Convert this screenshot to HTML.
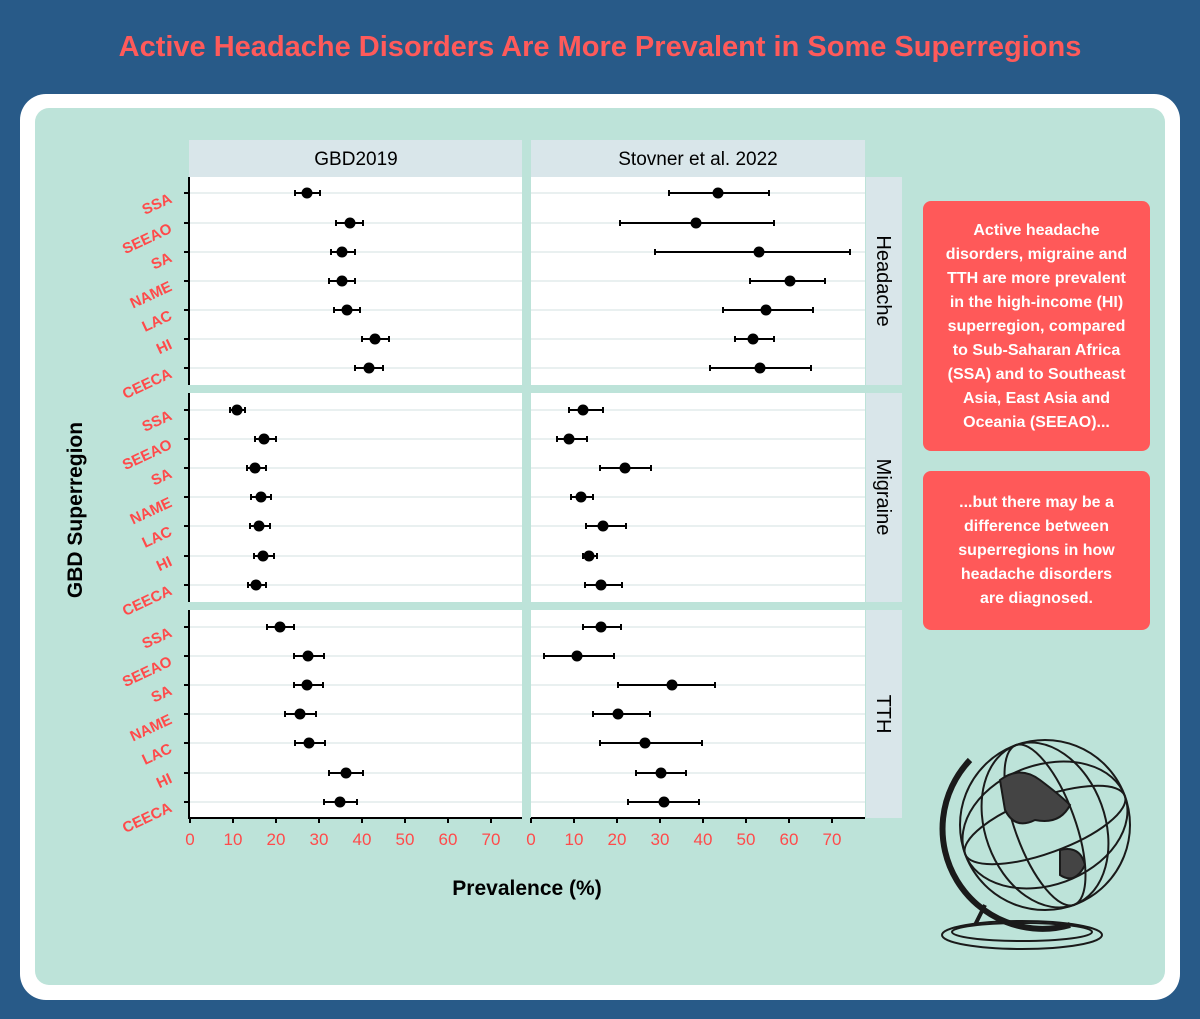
<!DOCTYPE html>
<html><head><meta charset="utf-8"><style>
html,body{margin:0;padding:0;}
body{width:1200px;height:1019px;background:#285a88;position:relative;overflow:hidden;font-family:"Liberation Sans",sans-serif;}
.title{position:absolute;left:0;top:31px;width:1200px;text-align:center;color:#ff5a5a;font-weight:bold;font-size:29px;}
.card{position:absolute;left:20px;top:94px;width:1160px;height:906px;background:#fff;border-radius:26px;}
.inner{position:absolute;left:35px;top:108px;width:1130px;height:877px;background:#bde3d9;border-radius:14px;}
.box{position:absolute;left:923px;width:227px;background:#ff5959;border-radius:8px;color:#fff;font-weight:bold;font-size:16px;line-height:24px;text-align:center;box-sizing:border-box;padding:0 16px;}
svg{position:absolute;left:0;top:0;}
</style></head><body>
<div class="title">Active Headache Disorders Are More Prevalent in Some Superregions</div>
<div class="card"></div><div class="inner"></div>
<div class="box" style="top:201px;height:250px;padding-top:18px;padding-left:17px;padding-right:17px;">Active headache disorders, migraine and TTH are more prevalent in the high-income (HI) superregion, compared to Sub-Saharan Africa (SSA) and to Southeast Asia, East Asia and Oceania (SEEAO)...</div>
<div class="box" style="top:471px;height:159px;padding-top:20px;padding-left:26px;padding-right:26px;">...but there may be a difference between superregions in how headache disorders are diagnosed.</div>
<svg width="1200" height="1019" xmlns="http://www.w3.org/2000/svg" font-family="Liberation Sans, sans-serif">
<rect x="189" y="140" width="333" height="37" fill="#d9e6ea"/>
<rect x="531" y="140" width="334" height="37" fill="#d9e6ea"/>
<text x="356" y="165" font-size="19" text-anchor="middle">GBD2019</text>
<text x="698" y="165" font-size="19" text-anchor="middle">Stovner et al. 2022</text>
<rect x="866" y="177" width="36" height="208" fill="#d9e6ea"/>
<rect x="866" y="393" width="36" height="209" fill="#d9e6ea"/>
<rect x="866" y="610" width="36" height="208" fill="#d9e6ea"/>
<text transform="translate(877,281) rotate(90)" font-size="20" text-anchor="middle">Headache</text>
<text transform="translate(877,497) rotate(90)" font-size="20" text-anchor="middle">Migraine</text>
<text transform="translate(877,714) rotate(90)" font-size="20" text-anchor="middle">TTH</text>
<g fill="#fff">
<rect x="189" y="177" width="333" height="208"/><rect x="531" y="177" width="334" height="208"/>
<rect x="189" y="393" width="333" height="209"/><rect x="531" y="393" width="334" height="209"/>
<rect x="189" y="610" width="333" height="208"/><rect x="531" y="610" width="334" height="208"/>
</g>
<g stroke="#e9f0f0" stroke-width="2">
<path d="M189 193H522M189 223H522M189 252H522M189 281H522M189 310H522M189 339H522M189 368H522M531 193H865M531 223H865M531 252H865M531 281H865M531 310H865M531 339H865M531 368H865"/>
<path d="M189 410H522M189 439H522M189 468H522M189 497H522M189 526H522M189 556H522M189 585H522M531 410H865M531 439H865M531 468H865M531 497H865M531 526H865M531 556H865M531 585H865"/>
<path d="M189 627H522M189 656H522M189 685H522M189 714H522M189 743H522M189 773H522M189 802H522M531 627H865M531 656H865M531 685H865M531 714H865M531 743H865M531 773H865M531 802H865"/>
</g>
<g stroke="#000" stroke-width="2" fill="none">
<path d="M189 177V385M189 393V602M189 610V819M189 818H522M531 818H865"/>
<path d="M184 193H189M184 223H189M184 252H189M184 281H189M184 310H189M184 339H189M184 368H189M184 410H189M184 439H189M184 468H189M184 497H189M184 526H189M184 556H189M184 585H189M184 627H189M184 656H189M184 685H189M184 714H189M184 743H189M184 773H189M184 802H189"/>
<path d="M190 818V823M233 818V823M276 818V823M319 818V823M362 818V823M405 818V823M448 818V823M491 818V823M531 818V823M574 818V823M617 818V823M660 818V823M703 818V823M746 818V823M789 818V823M832 818V823"/>
</g>
<g fill="#ff4a4a" font-size="17" text-anchor="middle">
<text x="190" y="845">0</text><text x="233" y="845">10</text><text x="276" y="845">20</text><text x="319" y="845">30</text><text x="362" y="845">40</text><text x="405" y="845">50</text><text x="448" y="845">60</text><text x="491" y="845">70</text>
<text x="531" y="845">0</text><text x="574" y="845">10</text><text x="617" y="845">20</text><text x="660" y="845">30</text><text x="703" y="845">40</text><text x="746" y="845">50</text><text x="789" y="845">60</text><text x="832" y="845">70</text>
</g>
<text x="527" y="895" font-size="21" font-weight="bold" text-anchor="middle">Prevalence (%)</text>
<text transform="translate(82,510) rotate(-90)" font-size="21" font-weight="bold" text-anchor="middle">GBD Superregion</text>
<g fill="#ff4a4a" font-size="15" font-weight="bold" text-anchor="end">
<text transform="translate(173,202) rotate(-25)">SSA</text>
<text transform="translate(173,232) rotate(-25)">SEEAO</text>
<text transform="translate(173,261) rotate(-25)">SA</text>
<text transform="translate(173,290) rotate(-25)">NAME</text>
<text transform="translate(173,319) rotate(-25)">LAC</text>
<text transform="translate(173,348) rotate(-25)">HI</text>
<text transform="translate(173,377) rotate(-25)">CEECA</text>
<text transform="translate(173,419) rotate(-25)">SSA</text>
<text transform="translate(173,448) rotate(-25)">SEEAO</text>
<text transform="translate(173,477) rotate(-25)">SA</text>
<text transform="translate(173,506) rotate(-25)">NAME</text>
<text transform="translate(173,535) rotate(-25)">LAC</text>
<text transform="translate(173,565) rotate(-25)">HI</text>
<text transform="translate(173,594) rotate(-25)">CEECA</text>
<text transform="translate(173,636) rotate(-25)">SSA</text>
<text transform="translate(173,665) rotate(-25)">SEEAO</text>
<text transform="translate(173,694) rotate(-25)">SA</text>
<text transform="translate(173,723) rotate(-25)">NAME</text>
<text transform="translate(173,752) rotate(-25)">LAC</text>
<text transform="translate(173,782) rotate(-25)">HI</text>
<text transform="translate(173,811) rotate(-25)">CEECA</text>
</g>
<g stroke="#000" stroke-width="2" fill="none">
<path d="M295 193H320M295 190V196M320 190V196 M336 223H363M336 220V226M363 220V226 M331 252H355M331 249V255M355 249V255 M329 281H355M329 278V284M355 278V284 M334 310H360M334 307V313M360 307V313 M362 339H389M362 336V342M389 336V342 M355 368H383M355 365V371M383 365V371"/>
<path d="M669 193H769M669 190V196M769 190V196 M620 223H774M620 220V226M774 220V226 M655 252H850M655 249V255M850 249V255 M750 281H825M750 278V284M825 278V284 M723 310H813M723 307V313M813 307V313 M735 339H774M735 336V342M774 336V342 M710 368H811M710 365V371M811 365V371"/>
<path d="M230 410H245M230 407V413M245 407V413 M255 439H276M255 436V442M276 436V442 M247 468H266M247 465V471M266 465V471 M251 497H271M251 494V500M271 494V500 M250 526H270M250 523V529M270 523V529 M254 556H274M254 553V559M274 553V559 M248 585H266M248 582V588M266 582V588"/>
<path d="M569 410H603M569 407V413M603 407V413 M557 439H587M557 436V442M587 436V442 M600 468H651M600 465V471M651 465V471 M571 497H593M571 494V500M593 494V500 M586 526H626M586 523V529M626 523V529 M583 556H597M583 553V559M597 553V559 M585 585H622M585 582V588M622 582V588"/>
<path d="M267 627H294M267 624V630M294 624V630 M294 656H324M294 653V659M324 653V659 M294 685H323M294 682V688M323 682V688 M285 714H316M285 711V717M316 711V717 M295 743H325M295 740V746M325 740V746 M329 773H363M329 770V776M363 770V776 M324 802H357M324 799V805M357 799V805"/>
<path d="M583 627H621M583 624V630M621 624V630 M544 656H614M544 653V659M614 653V659 M618 685H715M618 682V688M715 682V688 M593 714H650M593 711V717M650 711V717 M600 743H702M600 740V746M702 740V746 M636 773H686M636 770V776M686 770V776 M628 802H699M628 799V805M699 799V805"/>
</g>
<g fill="#000">
<circle cx="307" cy="193" r="5.5"/><circle cx="350" cy="223" r="5.5"/><circle cx="342" cy="252" r="5.5"/><circle cx="342" cy="281" r="5.5"/><circle cx="347" cy="310" r="5.5"/><circle cx="375" cy="339" r="5.5"/><circle cx="369" cy="368" r="5.5"/>
<circle cx="718" cy="193" r="5.5"/><circle cx="696" cy="223" r="5.5"/><circle cx="759" cy="252" r="5.5"/><circle cx="790" cy="281" r="5.5"/><circle cx="766" cy="310" r="5.5"/><circle cx="753" cy="339" r="5.5"/><circle cx="760" cy="368" r="5.5"/>
<circle cx="237" cy="410" r="5.5"/><circle cx="264" cy="439" r="5.5"/><circle cx="255" cy="468" r="5.5"/><circle cx="261" cy="497" r="5.5"/><circle cx="259" cy="526" r="5.5"/><circle cx="263" cy="556" r="5.5"/><circle cx="256" cy="585" r="5.5"/>
<circle cx="583" cy="410" r="5.5"/><circle cx="569" cy="439" r="5.5"/><circle cx="625" cy="468" r="5.5"/><circle cx="581" cy="497" r="5.5"/><circle cx="603" cy="526" r="5.5"/><circle cx="589" cy="556" r="5.5"/><circle cx="601" cy="585" r="5.5"/>
<circle cx="280" cy="627" r="5.5"/><circle cx="308" cy="656" r="5.5"/><circle cx="307" cy="685" r="5.5"/><circle cx="300" cy="714" r="5.5"/><circle cx="309" cy="743" r="5.5"/><circle cx="346" cy="773" r="5.5"/><circle cx="340" cy="802" r="5.5"/>
<circle cx="601" cy="627" r="5.5"/><circle cx="577" cy="656" r="5.5"/><circle cx="672" cy="685" r="5.5"/><circle cx="618" cy="714" r="5.5"/><circle cx="645" cy="743" r="5.5"/><circle cx="661" cy="773" r="5.5"/><circle cx="664" cy="802" r="5.5"/>
</g>
<g stroke="#1a1a1a" stroke-width="2" fill="none">
<circle cx="1045" cy="825" r="85" fill="#bde3d9"/>
<ellipse cx="1045" cy="825" rx="85" ry="28" transform="rotate(-20 1045 825)"/>
<ellipse cx="1045" cy="825" rx="85" ry="60" transform="rotate(-20 1045 825)"/>
<ellipse cx="1045" cy="825" rx="30" ry="85" transform="rotate(-20 1045 825)"/>
<ellipse cx="1045" cy="825" rx="60" ry="85" transform="rotate(-20 1045 825)"/>
<path d="M1000 780 q20 -15 40 0 t30 25 q-10 20 -35 15 q-20 10 -30 -10 z" fill="#444"/>
<path d="M1060 850 q20 -5 25 15 q-10 20 -25 10 z" fill="#444"/>
<path d="M970 760 A100 100 0 0 0 1070 925" stroke-width="6"/>
<path d="M985 905 L975 925" stroke-width="4"/>
<ellipse cx="1022" cy="935" rx="80" ry="14"/>
<ellipse cx="1022" cy="932" rx="70" ry="9"/>
</g>
</svg>
</body></html>
